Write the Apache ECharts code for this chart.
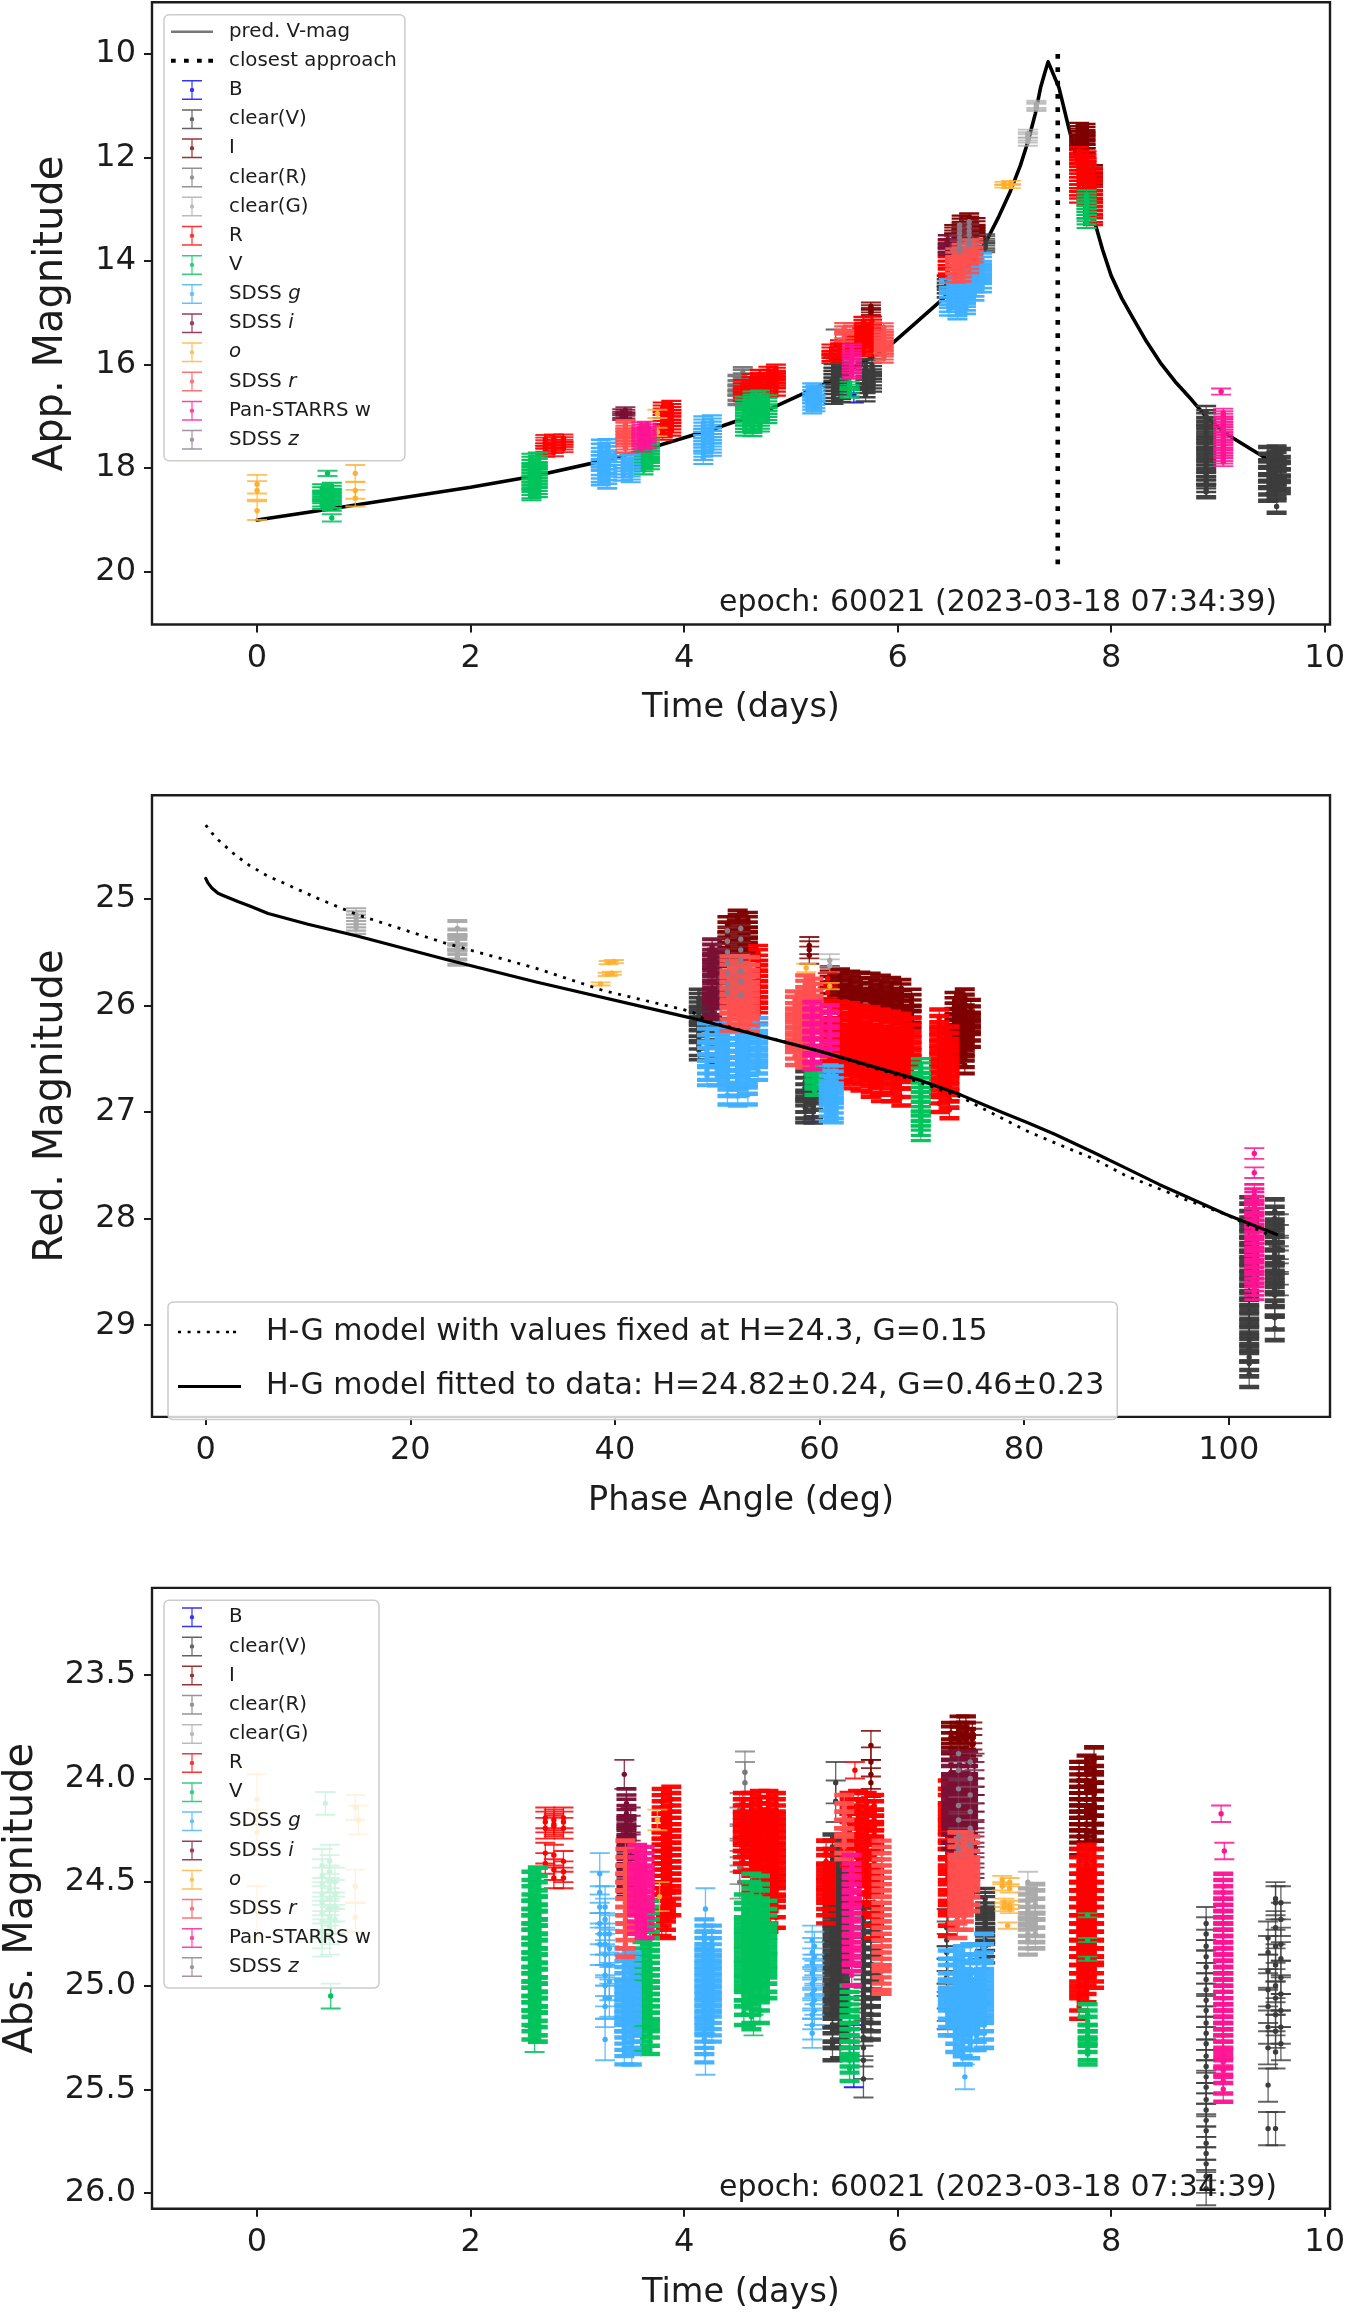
<!DOCTYPE html>
<html>
<head>
<meta charset="utf-8">
<title>Light curves and phase curve</title>
<script src="https://cdn.jsdelivr.net/npm/echarts@6/dist/echarts.min.js"></script>
<style>html,body{margin:0;padding:0;background:#fff}#c{width:1345px;height:2313px}</style>
</head>
<body>
<div id="c"></div>
<script>
// Observation columns: [x, magnitude error, magnitude, magnitude, ...]

// ---- Apparent magnitude against time (days) ----
const predT = [0,0.65,2,2.6,3.3,3.73,4.31,4.52,4.81,5.37,5.89,6.43,6.6,6.82,6.95,7.05,7.15,7.22,7.29,7.34,7.38,7.41,7.51,7.6,7.66,7.75,7.84,7.92,8,8.1,8.21,8.33,8.46,8.6,8.75,8.9,9.08,9.3,9.5,9.58];
const predM = [19,18.8,18.37,18.15,17.83,17.58,17.22,17.07,16.85,16.32,15.7,14.72,14.25,13.66,13.13,12.68,12.15,11.7,11.15,10.64,10.35,10.15,10.64,11.4,11.88,12.6,13.2,13.78,14.28,14.72,15.12,15.55,15.96,16.33,16.67,17.03,17.34,17.62,17.87,17.98];
const closestT = [7.5,7.5];
const closestM = [10,19.87];

const appB = [[5.59,.15,16.58]];
const appClearV = [
 [5.42,.28,15.6],
 [5.40,.13,15.93,15.99,16.06,16.12,16.19,16.25,16.31,16.38,16.44,16.51,16.57,16.63],
 [5.47,.12,15.95,16.02,16.08,16.15,16.21,16.28,16.34,16.41,16.47,16.54,16.6],
 [5.70,.13,16.03,16.1,16.16,16.23,16.29,16.36,16.42,16.5,16.58],
 [5.76,.12,16.02,16.08,16.15,16.21,16.28,16.34,16.4],
 [6.82,.09,13.57,13.61,13.66,13.7,13.74],
 [6.46,.1,14.38,14.45,14.52,14.6],
 [8.89,.12,16.92,17,17.06,17.13,17.21,17.28,17.34,17.41,17.49,17.55,17.62,17.7,17.76,17.83,17.91,17.97,18.05,18.12,18.19,18.27,18.34,18.42,18.46],
 [9.47,.13,17.72,17.85,18,18.12,18.25,18.38,18.5],
 [9.55,.12,17.7,17.8,17.92,18.06,18.18,18.3,18.44,18.74],
 [9.59,.12,17.75,17.9,18.02,18.15,18.28,18.36]
];
const appI = [
 [5.75,.07,14.87,14.92,14.97,15],
 [6.53,.08,13.38,13.43,13.49,13.55],
 [6.6,.08,13.2,13.26,13.32,13.38,13.45,13.52],
 [6.67,.08,13.16,13.22,13.27,13.34,13.41,13.48,13.55],
 [6.73,.08,13.25,13.31,13.38,13.44,13.5],
 [7.7,.08,11.41,11.47,11.52,11.58,11.64,11.7,11.77,11.84,11.9],
 [7.76,.08,11.43,11.49,11.55,11.61,11.67,11.74,11.82,11.9,12],
 [7.83,.08,12.23,12.3,12.38,12.46,12.55,12.64,12.72]
];
const appClearR = [
 [4.55,.1,16.15,16.2,16.27,16.35,16.42,16.5,16.58,16.66],
 [4.5,.09,16.3,16.4,16.5,16.6,16.68]
];
const appClearG = [
 [7.3,.07,10.97,11,11.03],
 [7.22,.08,11.54,11.59,11.63,11.69]
];
const appR = [
 [2.7,.08,17.44,17.49,17.54,17.6,17.65,17.7],
 [2.78,.08,17.43,17.47,17.53,17.58,17.63,17.69],
 [2.87,.07,17.42,17.47,17.52,17.57,17.62],
 [3.8,.09,16.82,16.88,16.94,17,17.06,17.12,17.18,17.25,17.31,17.36],
 [3.88,.09,16.79,16.85,16.91,16.97,17.03,17.09,17.16,17.22,17.28],
 [4.55,.08,16.38,16.44,16.5,16.56,16.62],
 [4.63,.08,16.26,16.32,16.38,16.44,16.5,16.56],
 [4.71,.08,16.18,16.24,16.3,16.36,16.42,16.48,16.55],
 [4.79,.08,16.12,16.18,16.24,16.3,16.36,16.42,16.48,16.54],
 [4.86,.08,16.08,16.14,16.2,16.26,16.32,16.38,16.44,16.52],
 [5.38,.07,15.68,15.74,15.8,15.86,15.9],
 [5.46,.07,15.6,15.66,15.72,15.78],
 [5.6,.08,15.28,15.34,15.41,15.47,15.54,15.6,15.67,15.73],
 [5.68,.08,15.16,15.22,15.28,15.35,15.41,15.47,15.54,15.61,15.68,15.76],
 [5.76,.08,15.15,15.21,15.27,15.33,15.4,15.47,15.53,15.6,15.66,15.72],
 [6.47,.08,13.68,13.76,13.84,13.92,14,14.08,14.16,14.22],
 [7.7,.07,11.87,11.93,11.99,12.05,12.11,12.18,12.24,12.31,12.38,12.45,12.52,12.59,12.66,12.72,12.8],
 [7.77,.07,11.95,12.01,12.07,12.13,12.2,12.27,12.33,12.4,12.46,12.52,12.6,12.68,12.76,12.85],
 [7.83,.07,12.27,12.34,12.41,12.49,12.56,12.63,12.71,12.78,12.86,12.94,13.02,13.1,13.18,13.23]
];
const appV = [
 [.66,.05,18.1],[.7,.07,18.96],
 [.61,.07,18.38,18.44,18.5,18.55,18.61,18.67,18.72],
 [.7,.07,18.35,18.41,18.47,18.53,18.58,18.64,18.7,18.75],
 [2.57,.1,17.82,17.88,17.94,18,18.06,18.12,18.18,18.24,18.3,18.36,18.42,18.48,18.52],
 [2.63,.1,17.8,17.86,17.92,17.98,18.04,18.1,18.16,18.22,18.28,18.34,18.4,18.46],
 [3.62,.08,17.62,17.68,17.74,17.8,17.86,17.92,17.98,18.04],
 [3.68,.08,17.46,17.52,17.58,17.64,17.7,17.76,17.82,17.88,17.94],
 [4.57,.1,16.72,16.78,16.84,16.9,16.96,17.02,17.08,17.14,17.2,17.27],
 [4.64,.1,16.62,16.68,16.74,16.8,16.86,16.92,16.98,17.04,17.1,17.16,17.22,17.28],
 [4.71,.1,16.6,16.66,16.72,16.78,16.84,16.9,16.96,17.02,17.08,17.14,17.19],
 [4.78,.09,16.68,16.74,16.8,16.86,16.92,16.98,17.04],
 [5.55,.08,16.35,16.41,16.47,16.53,16.56],
 [7.77,.09,12.72,12.78,12.84,12.9,12.96,13.02,13.08,13.14,13.2,13.27]
];
const appG = [
 [3.22,.15,17.6,17.68,17.76,17.83,17.9,17.98,18.05,18.12,18.18],
 [3.28,.14,17.58,17.65,17.72,17.8,17.88,17.95,18.02,18.09,18.16,18.25],
 [3.43,.12,17.82,17.88,17.94,18,18.06,18.12],
 [3.5,.12,17.86,17.92,17.98,18.04,18.1,18.15],
 [4.18,.12,17.12,17.18,17.24,17.3,17.36,17.42,17.48,17.54,17.6,17.66,17.72,17.8],
 [4.26,.12,17.1,17.16,17.22,17.28,17.34,17.4,17.46,17.52,17.58,17.64],
 [5.2,.1,16.46,16.53,16.59,16.65,16.71,16.77,16.84],
 [5.23,.1,16.5,16.56,16.62,16.68,16.74,16.8],
 [6.48,.1,14.45,14.52,14.6,14.67,14.74,14.8,14.88,14.95],
 [6.56,.1,14.4,14.48,14.56,14.64,14.72,14.8,14.88,14.96,15.02],
 [6.64,.1,14.3,14.38,14.46,14.54,14.62,14.7,14.78,14.85,14.92],
 [6.72,.1,14.1,14.18,14.26,14.34,14.42,14.5,14.58,14.66],
 [6.79,.1,13.95,14.02,14.1,14.18,14.26,14.34,14.42,14.5]
];
const appLowerI = [
 [3.45,.06,16.88,16.93,16.98,17.02],
 [3.42,.06,16.92,16.97,17.01],
 [6.47,.08,13.58,13.66,13.74,13.8]
];
const appO = [
 [0,.18,18.31,18.43,18.82],[.92,.16,18.1,18.43,18.58],
 [3.75,.08,16.95,17.3],
 [7,.03,12.5,12.55],[7.06,.03,12.48,12.56]
];
const appLowerR = [
 [3.45,.08,17.15,17.2,17.26,17.32,17.38,17.44,17.5,17.56,17.62],
 [5.5,.08,15.28,15.34,15.41,15.47],
 [5.87,.08,15.28,15.34,15.4,15.46,15.52,15.58,15.64,15.7,15.76,15.82,15.88],
 [6.54,.09,13.85,13.92,14,14.08,14.16,14.24,14.32],
 [6.6,.09,13.76,13.83,13.9,13.98,14.06,14.14,14.22,14.3],
 [6.67,.09,13.68,13.75,13.82,13.9,13.98,14.06,14.14],
 [6.71,.08,13.66,13.72,13.8,13.88,13.94]
];
const appW = [
 [9.03,.06,16.52],
 [3.6,.06,17.17,17.22,17.27,17.32,17.37,17.42,17.47,17.52,17.57,17.62],
 [3.65,.06,17.16,17.21,17.26,17.31,17.36,17.41,17.46,17.51,17.56],
 [5.57,.06,15.67,15.72,15.78,15.83,15.88,15.94,16,16.05,16.11,16.17,16.21],
 [9.05,.08,16.93,16.98,17.03,17.08,17.13,17.18,17.23,17.28,17.33,17.38,17.43,17.48,17.53,17.58,17.63,17.68,17.73,17.78,17.83,17.88]
];
const appZ = [
 [6.58,.03,13.3,13.38,13.46,13.55,13.64,13.74,13.82],
 [6.67,.03,13.24,13.33,13.42,13.5,13.6,13.68]
];

// ---- Reduced magnitude against phase angle (deg) ----
const hgPhase = [0,.4,1,1.7,3,4.3,6.1,8.25,11,14.8,23.5,32.2,38.8,47.5,49.1,60,69.4,73.8,76,80.3,83,86.8,90,93.2,96,99.7,103.8];
const hgFixed = [24.31,24.36,24.43,24.49,24.6,24.69,24.79,24.88,25,25.15,25.42,25.65,25.86,26.06,26.15,26.43,26.71,26.86,26.97,27.18,27.29,27.44,27.6,27.72,27.83,27.96,28.15];
const hgFitPhase = [0,.2,.6,1.2,1.7,3.2,4.3,6.1,10,14.8,23.5,32.2,47.5,60,69.4,73.8,76,78,80.3,83,86.8,90,93.2,96,99.7,104.7];
const hgFit = [24.81,24.85,24.9,24.95,24.97,25.03,25.07,25.14,25.24,25.35,25.57,25.78,26.12,26.43,26.69,26.84,26.93,27.01,27.1,27.21,27.38,27.53,27.68,27.8,27.96,28.15];

const redB = [[59.3,.16,26.93]];
const redClearV = [
 [48.2,.09,25.94,25.98,26.02,26.06,26.1,26.15,26.2,26.26,26.32,26.38,26.42],
 [49,.09,25.94,25.97,26.01,26.04,26.08,26.12],
 [50.1,.07,26.2,26.26,26.33,26.4,26.46],
 [58.6,.1,26.72,26.78,26.84,26.9,26.96,27],
 [59.4,.1,26.7,26.76,26.82,26.88,26.95,27],
 [102,.12,27.92,27.98,28.05,28.11,28.18,28.24,28.3,28.37,28.43,28.5,28.56,28.63,28.69,28.75,28.82,28.88,28.95,29.01,29.08,29.14,29.22,29.3,29.36,29.46],
 [104.5,.11,27.93,28,28.06,28.12,28.19,28.26,28.33,28.4,28.47,28.53,28.6,28.66,28.72,28.8,28.93,29.03],
 [104.9,.1,28.06,28.16,28.28,28.4,28.52,28.62]
];
const redI = [
 [51,.07,25.24,25.29,25.34,25.39,25.44,25.49,25.54],
 [52,.07,25.18,25.22,25.27,25.32,25.37,25.42,25.47,25.52],
 [53,.07,25.2,25.24,25.29,25.34,25.39,25.44,25.5,25.55],
 [59,.08,25.44,25.48,25.53],
 [61,.08,25.72,25.76,25.81,25.86,25.91],
 [62,.08,25.74,25.78,25.83,25.88,25.93],
 [63,.08,25.76,25.8,25.85,25.9,25.95,26],
 [64,.08,25.77,25.82,25.87,25.92,25.97,26.02],
 [65,.08,25.78,25.83,25.88,25.93,25.98,26.03],
 [66,.08,25.8,25.85,25.9,25.95,26,26.05],
 [67,.08,25.82,25.87,25.92,25.97,26.02,26.07],
 [68,.08,25.84,25.88,25.94,25.99,26.04,26.09],
 [69,.08,25.93,25.98,26.03,26.08,26.13],
 [73.2,.08,25.96,26.01,26.06,26.11,26.16,26.21,26.26,26.31,26.36,26.41,26.46],
 [74.2,.08,25.93,25.98,26.03,26.08,26.14,26.2,26.26,26.32,26.38,26.44,26.5,26.56],
 [74.8,.07,26.02,26.08,26.14,26.2,26.26,26.32]
];
const redClearR = [];
const redClearG = [
 [14.7,.06,25.15,25.18,25.21,25.24,25.27],
 [24.6,.07,25.28,25.36,25.41,25.45,25.5,25.55],
 [61,.06,25.58,25.63]
];
const redR = [
 [54,.07,25.51,25.55,25.6,25.65,25.7,25.75,25.8,25.85,25.9,25.95,26,26.05,26.1],
 [60.8,.05,25.75,25.88,26],
 [61,.08,26.04,26.09,26.14,26.2,26.26,26.32,26.38,26.44,26.5,26.56,26.62],
 [62,.08,26.05,26.1,26.15,26.2,26.26,26.32,26.38,26.44,26.5,26.56,26.62,26.66],
 [63,.08,26.06,26.11,26.16,26.22,26.28,26.34,26.4,26.46,26.52,26.58,26.64,26.7],
 [64,.08,26.08,26.13,26.18,26.24,26.3,26.36,26.42,26.48,26.54,26.6,26.66,26.72],
 [65,.08,26.1,26.15,26.2,26.26,26.32,26.38,26.44,26.5,26.56,26.62,26.68,26.74,26.78],
 [66,.08,26.12,26.17,26.22,26.28,26.34,26.4,26.46,26.52,26.58,26.64,26.7,26.76,26.82],
 [67,.08,26.14,26.19,26.24,26.3,26.36,26.42,26.48,26.54,26.6,26.66,26.74,26.82],
 [68,.08,26.16,26.22,26.28,26.34,26.4,26.46,26.52,26.58,26.64,26.7,26.78,26.86],
 [69,.08,26.2,26.26,26.32,26.38,26.44,26.5,26.56,26.62],
 [71.7,.08,26.12,26.18,26.24,26.3,26.36,26.42,26.48,26.54,26.6,26.66,26.72,26.78,26.84,26.92],
 [72.7,.08,26.28,26.34,26.4,26.46,26.52,26.58,26.64,26.7,26.76,26.82,26.88,26.98]
];
const redV = [
 [59.5,.04,26.62,26.68,26.74,26.8],
 [69.9,.07,26.57,26.61,26.66,26.7,26.75,26.79,26.84,26.88,26.93,26.97,27.02,27.06,27.1,27.15,27.2]
];
const redG = [
 [49,.09,26.26,26.31,26.37,26.43,26.49,26.55,26.61,26.66],
 [50,.09,26.25,26.31,26.37,26.43,26.49,26.55,26.61,26.66],
 [51,.09,26.28,26.34,26.4,26.46,26.52,26.58,26.64,26.7,26.76,26.84],
 [52,.09,26.28,26.34,26.4,26.46,26.52,26.58,26.64,26.7,26.76,26.85],
 [53,.09,26.26,26.32,26.38,26.44,26.5,26.56,26.62,26.68,26.74,26.84],
 [54,.08,26.2,26.26,26.32,26.38,26.44,26.5,26.56,26.62],
 [60.9,.09,26.65,26.7,26.75,26.8,26.85,26.9,26.95,27],
 [61.4,.09,26.66,26.71,26.77,26.82,26.87,26.92,26.97,27.01]
];
const redLowerI = [
 [49.5,.07,25.45,25.5,25.55,25.6,25.66,25.72,25.78,25.84,25.9,25.96,26.02,26.06],
 [50,.07,25.55,25.62,25.7,25.78,25.86,25.94]
];
const redO = [
 [39.4,.015,25.6],[39.9,.015,25.59],[39.7,.015,25.7],[39.3,.015,25.71],[38.6,.015,25.8],
 [58.7,.04,25.65,25.82],[61,.03,25.82]
];
const redLowerR = [
 [51.2,.08,25.62,25.66,25.7,25.75,25.81,25.87,25.93,25.99,26.05,26.11,26.16],
 [52.2,.08,25.62,25.68,25.73,25.79,25.85,25.91,25.97,26.03,26.09,26.15],
 [53.2,.08,25.63,25.7,25.75,25.81,25.87,25.93,25.99,26.05,26.11,26.17],
 [57.6,.08,25.95,26,26.06,26.12,26.18,26.24,26.3,26.36,26.42,26.48],
 [58.6,.08,25.8,25.85,25.91,25.97,26.03,26.09,26.15,26.21,26.27,26.33,26.39,26.45,26.5],
 [59.4,.08,25.83,25.88,25.94,26,26.06,26.12,26.18,26.24,26.3]
];
const redW = [
 [102.5,.05,27.39,27.57],
 [59.3,.03,26,26.07,26.14,26.21,26.28,26.35,26.42,26.5,26.57],
 [61,.03,26.03,26.1,26.17,26.24,26.31,26.38,26.44],
 [102.5,.06,27.74,27.78,27.81,27.85,27.89,27.92,27.96,28,28.03,28.07,28.11,28.14,28.18,28.22,28.25,28.29,28.33,28.36,28.4,28.44,28.47,28.51,28.55,28.58,28.62,28.66,28.7]
];
const redZ = [
 [51,.03,25.3,25.4,25.5,25.6,25.7,25.8,25.88],
 [52.3,.03,25.28,25.38,25.48,25.58,25.68,25.78,25.9]
];

// ---- Absolute magnitude against time (days) ----
const absB = [[5.59,.15,25.34]];
const absClearV = [
 [5.42,.1,24.02,24.11],
 [5.39,.08,24.35,24.38,24.42,24.45,24.49,24.52,24.56,24.59,24.63,24.66,24.7,24.73,24.77,24.8,24.84,24.87,24.91,24.94,24.98,25.01,25.05,25.08,25.12,25.15,25.19,25.22,25.28],
 [5.46,.08,24.37,24.41,24.44,24.48,24.51,24.55,24.58,24.62,24.65,24.69,24.72,24.76,24.79,24.83,24.86,24.9,24.93,24.97,25,25.04,25.07,25.11,25.14,25.18,25.22,25.27],
 [5.68,.09,24.64,24.68,24.72,24.76,24.8,24.84,24.88,24.92,24.96,25,25.04,25.08,25.12,25.16,25.2,25.25,25.3,25.36,25.45],
 [5.75,.08,24.7,24.74,24.78,24.82,24.86,24.9,24.94,24.98,25.02,25.06,25.1,25.14,25.18],
 [6.46,.09,24.72,24.78,24.84,24.9,24.96,25.02,25.08,25.12],
 [6.82,.05,24.58,24.6,24.62,24.65,24.67,24.69,24.71,24.73,24.75,24.78,24.81,24.84],
 [6.78,.03,24.84,24.95,25.05,25.12],
 [8.89,.08,24.7,24.75,24.81,24.86,24.91,24.97,25.02,25.07,25.12,25.18,25.23,25.28,25.34,25.39,25.44,25.49,25.55,25.6,25.65,25.7,25.76,25.81,25.86,25.92,25.98],
 [9.47,.08,24.77,24.84,24.93,25.02,25.1,25.2,25.3,25.48,25.69],
 [9.54,.08,24.58,24.6,24.72,24.81,24.9,25,25.06,25.14,25.22,25.32,25.69],
 [9.59,.08,24.6,24.68,24.8,24.87,24.96,25.04,25.12,25.2,25.28]
];
const absI = [
 [5.75,.07,23.84,23.92,23.98,24.02],
 [6.5,.05,23.78,23.8,23.83,23.86],
 [6.58,.05,23.75,23.78,23.8,23.83,23.86],
 [6.64,.05,23.75,23.78,23.81,23.84],
 [6.7,.05,23.78,23.81,23.84],
 [7.7,.06,23.98,24.01,24.04,24.07,24.1,24.13,24.16,24.19,24.22,24.25,24.28,24.31],
 [7.77,.06,23.95,23.98,24.01,24.04,24.07,24.1,24.13,24.16,24.19,24.22,24.25,24.28],
 [7.84,.06,23.91,23.96,24,24.04,24.08,24.12,24.16,24.2,24.24,24.28]
];
const absClearR = [
 [4.57,.1,23.97,24.02],
 [4.52,.08,24.15,24.22,24.3,24.37,24.43,24.5]
];
const absClearG = [
 [7.22,.05,24.5],
 [7.22,.07,24.6,24.63,24.66,24.69,24.72,24.75,24.78],
 [7.29,.07,24.58,24.61,24.65,24.69,24.72,24.75]
];
const absR = [
 [2.7,.05,24.19,24.21,24.24,24.36,24.41],
 [2.78,.05,24.2,24.22,24.23,24.37,24.44,24.48],
 [2.87,.05,24.19,24.21,24.24,24.4,24.45,24.48],
 [3.79,.06,24.11,24.14,24.17,24.2,24.23,24.26,24.29,24.32,24.35,24.38,24.41,24.44,24.47,24.5,24.53,24.56,24.59,24.62,24.65,24.7],
 [3.83,.05,24.6,24.64,24.68,24.72],
 [3.88,.06,24.1,24.13,24.16,24.19,24.22,24.25,24.28,24.31,24.34,24.37,24.4,24.43,24.46,24.49,24.52,24.55,24.6],
 [4.55,.05,24.12,24.15,24.18,24.21,24.24,24.27,24.3,24.33,24.36,24.4],
 [4.63,.05,24.12,24.15,24.18,24.21,24.24,24.27,24.3,24.33,24.36,24.39,24.42,24.46,24.5],
 [4.71,.05,24.11,24.14,24.17,24.2,24.23,24.26,24.29,24.32,24.35,24.38,24.41,24.44,24.48,24.52,24.57],
 [4.79,.05,24.11,24.14,24.17,24.2,24.23,24.26,24.29,24.32,24.35,24.38,24.41,24.44,24.47,24.5,24.53,24.56,24.59,24.62,24.65,24.69],
 [4.86,.05,24.12,24.15,24.18,24.21,24.24,24.27,24.3,24.33,24.36,24.39,24.42,24.45,24.48,24.51,24.54,24.57,24.62,24.67],
 [5.33,.06,24.36,24.4,24.43,24.47,24.5,24.54,24.57,24.6,24.64],
 [5.6,.04,23.96],
 [5.55,.05,24.12,24.15,24.19,24.22,24.26,24.29,24.33,24.37],
 [5.63,.05,24.11,24.15,24.18,24.22,24.25,24.29,24.32,24.36,24.39,24.43,24.46,24.5,24.55],
 [5.71,.05,24.12,24.16,24.19,24.23,24.26,24.3,24.33,24.37,24.4,24.44,24.47,24.51,24.55,24.6],
 [5.78,.05,24.13,24.16,24.2,24.23,24.27,24.3,24.34,24.37,24.41,24.44,24.48,24.52,24.6,24.66,24.72],
 [6.47,.06,24.07,24.11,24.14,24.18,24.21,24.25,24.28,24.32,24.36,24.4,24.45,24.5,24.55,24.6,24.65,24.7],
 [6.54,.06,24.09,24.12,24.16,24.19,24.23,24.26,24.3,24.34,24.38,24.42],
 [7.7,.06,24.4,24.44,24.48,24.52,24.56,24.6,24.64,24.68,24.72,24.76,24.8,24.84,24.88,24.92,24.96,25,25.06,25.1],
 [7.77,.06,24.38,24.42,24.46,24.5,24.54,24.58,24.62,24.66,24.7,24.74,24.78,24.82,24.86,24.9,24.94,24.98,25.02],
 [7.84,.06,24.4,24.44,24.48,24.52,24.56,24.6,24.64,24.68,24.72,24.76,24.8,24.84,24.88,24.92,24.95]
];
const absV = [
 [.64,.055,24.12],[.69,.06,25.05],
 [.61,.08,24.42,24.47,24.51,24.56,24.6,24.65,24.69,24.74,24.78],
 [.68,.08,24.4,24.45,24.5,24.54,24.58,24.63,24.67,24.72,24.77],
 [.73,.07,24.5,24.56,24.62,24.68],
 [2.57,.07,24.52,24.56,24.59,24.63,24.66,24.7,24.73,24.77,24.8,24.84,24.87,24.91,24.94,24.98,25.01,25.05,25.08,25.12,25.15,25.19],
 [2.63,.07,24.5,24.54,24.57,24.61,24.64,24.68,24.71,24.75,24.78,24.82,24.85,24.89,24.92,24.96,24.99,25.03,25.06,25.1,25.13,25.17,25.2],
 [2.6,.06,25.26],
 [3.61,.06,24.85,24.88,24.91,24.94,24.97,25,25.03,25.06,25.09,25.12,25.15,25.18,25.21,25.25],
 [3.68,.06,24.65,24.68,24.71,24.74,24.77,24.8,24.83,24.86,24.89,24.92,24.95,24.98,25.01,25.04,25.07,25.1,25.13,25.16,25.19,25.23,25.27],
 [4.56,.06,24.62,24.66,24.69,24.73,24.76,24.8,24.83,24.87,24.9,24.94,24.97,25.01,25.04,25.08,25.13],
 [4.63,.06,24.52,24.56,24.59,24.63,24.66,24.7,24.73,24.77,24.8,24.84,24.87,24.91,24.94,24.98,25.01,25.05,25.08,25.12,25.15],
 [4.65,.05,25.19],
 [4.71,.06,24.53,24.57,24.6,24.64,24.67,24.71,24.74,24.78,24.81,24.85,24.88,24.92,24.95,24.99,25.02,25.06,25.12],
 [4.78,.06,24.65,24.69,24.72,24.76,24.79,24.83,24.86,24.9,24.93,24.97,25],
 [5.55,.06,25.06,25.09,25.12,25.15,25.18,25.21,25.24,25.27,25.3,25.33,25.36,25.4],
 [7.78,.05,25.14,25.17,25.2,25.24,25.27,25.31,25.33],
 [7.78,.01,24.66,24.78,24.87]
];
const absG = [
 [3.21,.1,24.46,24.55,24.62,24.7,24.75,24.8],
 [3.26,.1,24.62,24.68,24.75,24.8,24.85,24.9,24.95,25,25.06,25.1,25.26],
 [3.3,.09,24.75,24.82,24.9,24.98,25.06],
 [3.44,.08,24.9,24.93,24.96,24.99,25.02,25.05,25.08,25.11,25.14,25.17,25.2,25.23,25.26,25.3],
 [3.51,.08,24.92,24.95,24.98,25.01,25.04,25.07,25.1,25.13,25.16,25.19,25.22,25.25,25.3],
 [4.2,.1,24.63,25.33],
 [4.19,.07,24.75,24.78,24.81,24.84,24.87,24.9,24.93,24.96,24.99,25.02,25.05,25.08,25.11,25.14,25.17,25.2,25.23,25.26,25.3],
 [4.26,.07,24.78,24.81,24.84,24.87,24.9,24.93,24.96,24.99,25.02,25.05,25.08,25.11,25.14,25.17,25.2],
 [5.2,.07,24.78,24.84,24.89,24.94,24.99,25.04,25.09,25.14,25.19,25.23],
 [5.22,.07,24.81,24.86,24.92,24.97,25.02,25.07,25.12],
 [6.47,.07,24.9,24.94,24.97,25.01,25.05,25.09,25.13,25.17],
 [6.54,.07,24.9,24.94,24.97,25.01,25.05,25.09,25.13,25.17,25.21,25.25],
 [6.61,.07,24.88,24.92,24.95,24.99,25.03,25.07,25.11,25.15,25.19,25.23,25.27,25.31],
 [6.63,.06,25.44],
 [6.68,.07,24.87,24.92,24.96,25,25.04,25.08,25.12,25.16,25.2,25.24,25.28],
 [6.74,.07,24.87,24.92,24.96,25,25.04,25.08,25.12,25.16,25.2,25.24],
 [6.81,.07,24.82,24.87,24.91,24.95,24.99,25.03,25.07,25.11,25.15,25.19,25.23]
];
const absLowerI = [
 [3.44,.07,23.98],
 [3.46,.07,24.12,24.15,24.17,24.2,24.22,24.25,24.27,24.3,24.32,24.35,24.37,24.4,24.42,24.45,24.48,24.5],
 [3.5,.06,24.2,24.24,24.29,24.33,24.38,24.43,24.48],
 [6.5,.06,23.93,23.97,24,24.04,24.07,24.11,24.14,24.18,24.21,24.25,24.28],
 [6.58,.06,23.93,23.96,24,24.03,24.07,24.1,24.14,24.17,24.21,24.24,24.28,24.3],
 [6.66,.06,23.93,23.97,24,24.04,24.07,24.11,24.14,24.18,24.21,24.25,24.28],
 [6.72,.06,23.94,23.98,24.02,24.06,24.1,24.14,24.18,24.22,24.27,24.32,24.37,24.42,24.47,24.52]
];
const absO = [
 [0,.12,24.1],[0,.11,24.26],[0,.12,24.64],
 [.92,.06,24.14],[.95,.07,24.2],[.92,.08,24.52],[.92,.07,24.67],
 [3.75,.05,24.2],[3.77,.07,24.57],
 [6.98,.02,24.49,24.52],[7.05,.02,24.5,24.53],[7,.02,24.6,24.62],[7.05,.02,24.61,24.63],[7.03,.015,24.71]
];
const absLowerR = [
 [3.45,.06,24.36,24.4,24.44,24.48,24.52,24.56,24.6,24.64,24.68,24.72,24.76,24.8],
 [5.5,.06,24.14,24.18,24.22,24.26,24.3,24.33],
 [5.85,.06,24.36,24.39,24.42,24.45,24.48,24.51,24.54,24.57,24.6,24.63,24.66,24.69,24.72,24.75,24.78,24.81,24.84,24.87,24.9,24.93,24.96,24.98],
 [6.56,.06,24.32,24.36,24.39,24.43,24.46,24.5,24.53,24.57,24.6,24.64,24.67,24.71],
 [6.62,.06,24.32,24.35,24.39,24.42,24.46,24.49,24.53,24.56,24.6,24.63,24.67],
 [6.68,.06,24.34,24.37,24.41,24.44,24.48,24.51,24.55,24.58]
];
const absW = [
 [9.03,.04,24.17],[9.06,.04,24.35],
 [3.56,.05,24.37,24.4,24.43,24.46,24.49,24.52,24.55,24.58,24.61,24.64,24.67,24.7],
 [3.63,.05,24.38,24.41,24.44,24.47,24.5,24.53,24.56,24.59,24.62,24.65,24.68,24.72],
 [5.57,.05,24.42,24.46,24.49,24.53,24.56,24.6,24.63,24.67,24.7,24.74,24.77,24.81,24.84,24.88,24.95],
 [9.05,.06,24.52,24.55,24.58,24.61,24.64,24.67,24.7,24.73,24.76,24.79,24.82,24.85,24.88,24.91,24.94,24.97,25,25.03,25.06,25.09,25.12,25.15,25.18,25.21,25.24,25.27,25.3,25.33,25.37,25.41,25.46,25.5]
];
const absZ = [
 [6.57,.04,23.88,23.96,24.05,24.13,24.2,24.28,24.34],
 [6.68,.04,23.92,24,24.08,24.16,24.24,24.32]
];

const filterNames = ['B','clear(V)','I','clear(R)','clear(G)','R','V','SDSS g','SDSS i','o','SDSS r','Pan-STARRS w','SDSS z'];
const filterColors = ['#0000ff','#3c3c3c','#7f0000','#787878','#a9a9a9','#ff0000','#00c35c','#3fb0ff','#7a0f35','#ffb030','#ff5050','#ff1493','#8a7a8a'];
const capAlphas = [.85,.8,.85,.75,.7,.85,.85,.8,.85,.8,.85,.85,.25];
const appSets = [appB,appClearV,appI,appClearR,appClearG,appR,appV,appG,appLowerI,appO,appLowerR,appW,appZ];
const redSets = [redB,redClearV,redI,redClearR,redClearG,redR,redV,redG,redLowerI,redO,redLowerR,redW,redZ];
const absSets = [absB,absClearV,absI,absClearR,absClearG,absR,absV,absG,absLowerI,absO,absLowerR,absW,absZ];

const timeTicks = [0,2,4,6,8,10];
const appTicks = [10,12,14,16,18,20];
const phaseTicks = [0,20,40,60,80,100];
const redTicks = [25,26,27,28,29];
const absTicks = [23.5,24,24.5,25,25.5,26];

const INK = '#1c1c1c';
const FONT = '"DejaVu Sans"';
const CAP = 10;
const THIN = 1.9;

// Closely stacked measurements merge into a solid band, so their caps get thicker.
function rowsOf(columns, pxPerMag){
  const rows = [];
  columns.forEach(c => {
    const n = c.length - 2;
    const step = n > 3 ? (c[c.length-1] - c[2]) / (n - 1) * pxPerMag : 99;
    const thick = step < 9 ? Math.max(THIN, Math.min(4.6, step * .68)) : THIN;
    for (let i = 2; i < c.length; i++) rows.push([c[0], c[i], c[1], thick]);
  });
  return rows;
}
function barRenderer(color, capAlpha){
  return function(params, api){
    const x = api.value(0), y = api.value(1), e = api.value(2);
    const faint = capAlpha < .5;
    const thick = faint ? THIN : api.value(3);
    const alpha = !faint && thick > THIN ? .97 : capAlpha;
    const mid = api.coord([x, y]), hi = api.coord([x, y - e]), lo = api.coord([x, y + e]);
    const cap = yy => ({type:'line', shape:{x1:mid[0]-CAP,y1:yy,x2:mid[0]+CAP,y2:yy},
      style:{stroke:color,lineWidth:thick,opacity:alpha}});
    return {type:'group', children:[
      {type:'line', shape:{x1:mid[0],y1:hi[1],x2:mid[0],y2:lo[1]}, style:{stroke:color,lineWidth:1.3,opacity:capAlpha}},
      cap(hi[1]), cap(lo[1]),
      {type:'circle', shape:{cx:mid[0],cy:mid[1],r:2.7}, style:{fill:color}}
    ]};
  };
}
function barSeries(sets, axisIndex, pxPerMag){
  return sets.map((cols, i) => ({
    type:'custom', name:filterNames[i], coordinateSystem:'cartesian2d',
    xAxisIndex:axisIndex, yAxisIndex:axisIndex, clip:true, z:2,
    itemStyle:{color:filterColors[i]}, encode:{x:0,y:1},
    renderItem:barRenderer(filterColors[i], capAlphas[i]), data:rowsOf(cols, pxPerMag)
  }));
}
function lineSeries(name, xs, ys, axisIndex, width, dash, z){
  return {type:'line', name, xAxisIndex:axisIndex, yAxisIndex:axisIndex, symbol:'none', z,
    lineStyle:{color:'#000',width,type:dash||'solid',cap:dash?'butt':'round',join:'round'},
    itemStyle:{color:'#000'}, data:xs.map((x,i)=>[x,ys[i]])};
}
function xAxisOf(i, min, max, ticks, name){
  return {type:'value', gridIndex:i, min, max, position:'bottom', name, nameLocation:'middle', nameGap:67,
    nameTextStyle:{fontFamily:FONT,fontSize:33.5,color:INK},
    axisLine:{show:false,onZero:false}, splitLine:{show:false},
    axisTick:{show:true,length:8,lineStyle:{color:INK,width:2},customValues:ticks},
    axisLabel:{show:true,fontFamily:FONT,fontSize:32,color:INK,margin:18,customValues:ticks,hideOverlap:false}};
}
function yAxisOf(i, min, max, ticks, name, gap, fmt){
  return {type:'value', gridIndex:i, min, max, inverse:true, position:'left', name, nameLocation:'middle', nameGap:gap,
    nameTextStyle:{fontFamily:FONT,fontSize:40,color:INK},
    axisLine:{show:false,onZero:false}, splitLine:{show:false},
    axisTick:{show:true,length:8,lineStyle:{color:INK,width:2},customValues:ticks},
    axisLabel:{show:true,fontFamily:FONT,fontSize:32,color:INK,margin:16,customValues:ticks,formatter:fmt}};
}
const gridBox = (top,height)=>({left:152,width:1178,top,height,outerBoundsMode:'none',show:true,borderColor:INK,borderWidth:2.4,backgroundColor:'#fff'});

// Icon boxes leave room on the right because the label sits directly after the icon box.
const GHOST = 'M0 0H0ZM53 20H53Z';
const BAR_ICON = 'path://' + GHOST + 'M11 0H31V1.5H11ZM11 18.5H31V20H11ZM20.4 0H21.6V20H20.4ZM21 7.8A2.2 2.2 0 1 1 20.99 7.8Z';
const SOLID_ICON = 'path://' + GHOST + 'M0 8.7H42V11.3H0Z';
const DOT_ICON = 'path://' + GHOST + 'M0 8H4.7V12H0ZM13 8H17.7V12H13ZM26 8H30.7V12H26ZM37.3 8H42V12H37.3Z';
const WIDE_GHOST = 'M0 0H0ZM83 20H83Z';
const WIDE_SOLID = 'path://' + WIDE_GHOST + 'M0 8.6H63V11.4H0Z';
const WIDE_DOT = 'path://' + WIDE_GHOST + 'M0 8.7H3V11.3H0ZM9.6 8.7H12.6V11.3H9.6ZM19.2 8.7H22.2V11.3H19.2ZM28.8 8.7H31.8V11.3H28.8ZM38.4 8.7H41.4V11.3H38.4ZM48 8.7H51V11.3H48ZM55 8.7H58V11.3H55Z';
const barEntries = filterNames.map((n,i)=>({name:n,icon:BAR_ICON,itemStyle:{color:filterColors[i],opacity:.8}}));
const italicLabels = {'SDSS g':'SDSS {i|g}','SDSS i':'SDSS {i|i}','SDSS r':'SDSS {i|r}','SDSS z':'SDSS {i|z}','o':'{i|o}'};
function filterLegend(left, top, entries){
  return {show:true, orient:'vertical', left, top, z:100, selectedMode:false, data:entries,
    padding:[7,8,11,7], itemWidth:53, itemHeight:20.7, itemGap:9.15,
    backgroundColor:'rgba(255,255,255,0.8)', borderColor:'#cccccc', borderWidth:1.5, borderRadius:5,
    formatter:n => italicLabels[n] || n,
    textStyle:{fontFamily:FONT,fontSize:19.8,color:INK,rich:{i:{fontFamily:FONT,fontStyle:'italic',fontSize:19.8,color:INK}}}};
}
const stamp = (y)=>({type:'text', x:719, y, z:200, silent:true,
  style:{text:'epoch: 60021 (2023-03-18 07:34:39)', font:'30px "DejaVu Sans"', fill:INK, textVerticalAlign:'middle'}});

const chart = echarts.init(document.getElementById('c'), null, {renderer:'canvas', width:1345, height:2313});
chart.setOption({
  animation:false, backgroundColor:'#fff',
  grid:[gridBox(2.3,622.2), gridBox(795.2,621.7), gridBox(1587.9,620.9)],
  xAxis:[xAxisOf(0,-0.984,10.05,timeTicks,'Time (days)'),
         xAxisOf(1,-5.25,109.9,phaseTicks,'Phase Angle (deg)'),
         xAxisOf(2,-0.984,10.05,timeTicks,'Time (days)')],
  yAxis:[yAxisOf(0,9,21.02,appTicks,'App. Magnitude',80),
         yAxisOf(1,24.03,29.86,redTicks,'Red. Magnitude',80),
         yAxisOf(2,23.08,26.077,absTicks,'Abs. Magnitude',110,v=>v.toFixed(1))],
  legend:[
    filterLegend(164,14.7,[
      {name:'pred. V-mag',icon:SOLID_ICON,itemStyle:{color:'#777'}},
      {name:'closest approach',icon:DOT_ICON,itemStyle:{color:'#000'}}
    ].concat(barEntries)),
    {show:true, orient:'vertical', left:168, top:1302, z:100, selectedMode:false,
     data:[
       {name:'H-G model with values fixed at H=24.3, G=0.15',icon:WIDE_DOT,itemStyle:{color:'#000'}},
       {name:'H-G model fitted to data: H=24.82±0.24, G=0.46±0.23',icon:WIDE_SOLID,itemStyle:{color:'#000'}}
     ],
     padding:[15,13,18,10], itemWidth:83, itemHeight:20, itemGap:24.5,
     backgroundColor:'rgba(255,255,255,0.8)', borderColor:'#cccccc', borderWidth:1.5, borderRadius:5,
     textStyle:{fontFamily:FONT,fontSize:30,color:INK}},
    filterLegend(164,1600.3,barEntries)
  ],
  series:[
    lineSeries('pred. V-mag',predT,predM,0,3.6,null,1),
    lineSeries('closest approach',closestT,closestM,0,4.6,[4.7,8.6],1)
  ].concat(barSeries(appSets,0,51.75),[
    lineSeries('H-G model with values fixed at H=24.3, G=0.15',hgPhase,hgFixed,1,2.8,[3,6.6],3),
    lineSeries('H-G model fitted to data: H=24.82±0.24, G=0.46±0.23',hgFitPhase,hgFit,1,3.2,null,3)
  ],barSeries(redSets,1,106.6),barSeries(absSets,2,207.1)),
  graphic:[stamp(603),stamp(2188)]
});
</script>
</body>
</html>
